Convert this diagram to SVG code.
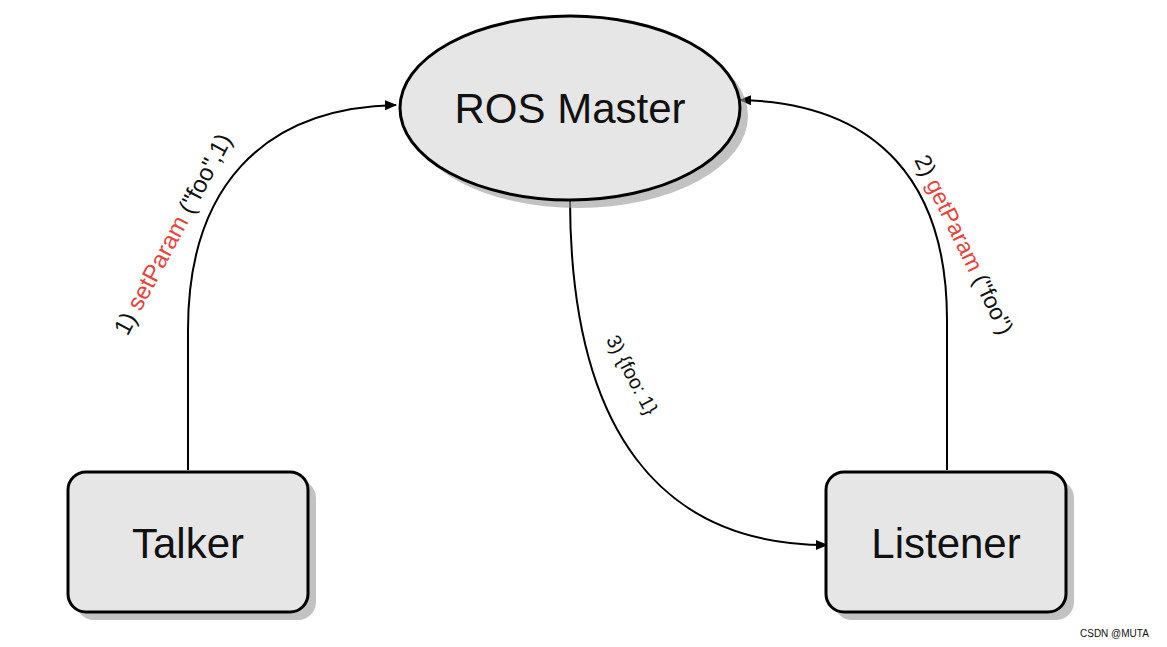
<svg xmlns="http://www.w3.org/2000/svg" width="1167" height="647" viewBox="0 0 1167 647">
<style>
.n{fill:#e6e6e6;stroke:#000;stroke-width:3}
.sh{fill:#9a9a9a;opacity:.6}
.t{font-family:"Liberation Sans",Arial,sans-serif;fill:#111}
.c{fill:none;stroke:#000;stroke-width:2}
.r{fill:#e8433b}
</style>
<defs><marker id="a" markerWidth="12" markerHeight="10" refX="11" refY="5" orient="auto" markerUnits="userSpaceOnUse"><path d="M0,0 L12,5 L0,10 Z" fill="#000"/></marker></defs>
<rect width="1167" height="647" fill="#fff"/>
<g id="connectors">
<path class="c" d="M188,470 L188,330 C188,190 260,108 396,105" marker-end="url(#a)"/>
<path class="c" d="M947,470 L947,320 C947,185 880,103 740,100" marker-end="url(#a)"/>
<path class="c" d="M570,198 C570,430 660,545 827,545" marker-end="url(#a)"/>
<text class="t" font-size="24" transform="translate(180,238) rotate(-62)" text-anchor="middle">1) <tspan class="r">setParam</tspan> ("foo",1)</text>
<text class="t" font-size="23" transform="translate(957,248) rotate(64)" text-anchor="middle">2) <tspan class="r">getParam</tspan> ("foo")</text>
<text class="t" font-size="20" transform="translate(626,378) rotate(62)" text-anchor="middle">3) {foo: 1}</text>
</g>
<g id="master">
<ellipse class="sh" cx="578" cy="116" rx="170" ry="92"/>
<ellipse class="n" cx="570" cy="108" rx="170" ry="92"/>
<text class="t" x="570" y="123" font-size="42" text-anchor="middle">ROS Master</text>
</g>
<g id="talker">
<rect class="sh" x="76" y="480" width="240" height="140" rx="18"/>
<rect class="n" x="68" y="472" width="240" height="140" rx="18"/>
<text class="t" x="188" y="558" font-size="42" text-anchor="middle">Talker</text>
</g>
<g id="listener">
<rect class="sh" x="834" y="480" width="240" height="140" rx="18"/>
<rect class="n" x="826" y="472" width="240" height="140" rx="18"/>
<text class="t" x="946" y="558" font-size="42" text-anchor="middle">Listener</text>
</g>
<text class="t" x="1080" y="637" font-size="10" fill="#666">CSDN @MUTA</text>
</svg>
